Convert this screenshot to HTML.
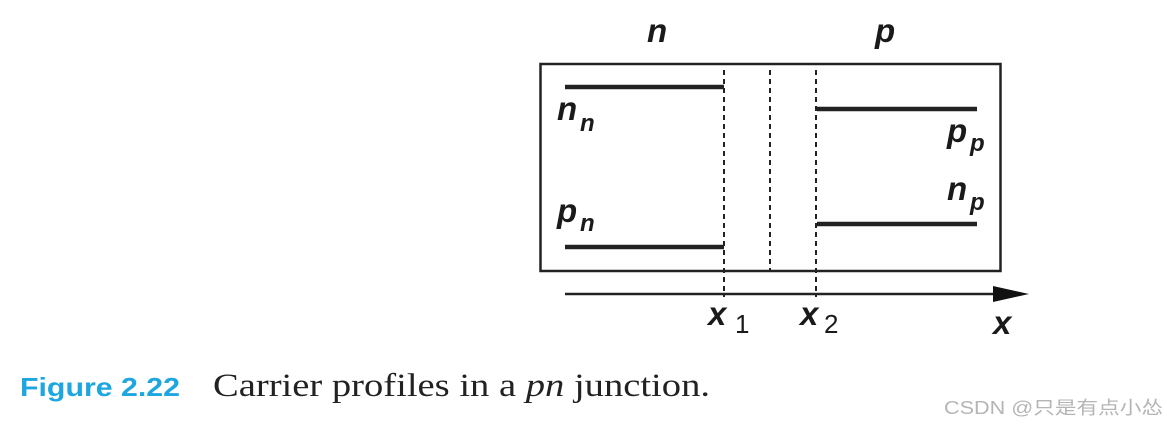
<!DOCTYPE html>
<html><head><meta charset="utf-8"><style>
html,body{margin:0;padding:0;background:#fff;}
body{width:1167px;height:425px;overflow:hidden;position:relative;}
</style></head><body>
<svg width="1167" height="425" viewBox="0 0 1167 425" style="position:absolute;left:0;top:0">
<g font-family="Liberation Sans, sans-serif" font-weight="bold" font-style="italic" fill="#1a1a1a">
<text x="647" y="42" font-size="33">n</text>
<text x="875" y="42" font-size="33">p</text>
<text x="557" y="120" font-size="33">n</text><text x="580" y="131" font-size="24">n</text>
<text x="557" y="222" font-size="33">p</text><text x="580" y="231" font-size="24">n</text>
<text x="947" y="142" font-size="33">p</text><text x="970" y="151" font-size="24">p</text>
<text x="947" y="200" font-size="33">n</text><text x="970" y="210" font-size="24">p</text>
<text x="708" y="325" font-size="33">x</text>
<text x="800" y="325" font-size="33">x</text>
<text x="993" y="334" font-size="33">x</text>
</g>
<g font-family="Liberation Sans, sans-serif" fill="#1a1a1a">
<text x="735" y="333" font-size="26">1</text>
<text x="824" y="333" font-size="26">2</text>
</g>
<rect x="540.5" y="64" width="460" height="207" fill="none" stroke="#222" stroke-width="2.5"/>
<g stroke="#222" stroke-width="4.5">
<line x1="565" y1="87" x2="724" y2="87"/>
<line x1="565" y1="247" x2="724" y2="247"/>
<line x1="817" y1="109" x2="977" y2="109"/>
<line x1="817" y1="224" x2="977" y2="224"/>
</g>
<g stroke="#222" stroke-width="2" stroke-dasharray="5,4">
<line x1="724" y1="70" x2="724" y2="297"/>
<line x1="770" y1="70" x2="770" y2="270"/>
<line x1="816" y1="70" x2="816" y2="297"/>
</g>
<line x1="565" y1="294" x2="995" y2="294" stroke="#222" stroke-width="2.5"/>
<polygon points="993,286 1029,294 993,302" fill="#111"/>
<text x="20" y="396" font-family="Liberation Sans, sans-serif" font-weight="bold" font-size="26" fill="#1ea6e0" textLength="160" lengthAdjust="spacingAndGlyphs">Figure 2.22</text>
<text x="213" y="396" font-family="Liberation Serif, serif" font-size="33" fill="#222" textLength="497" lengthAdjust="spacingAndGlyphs">Carrier profiles in a <tspan font-style="italic">pn</tspan> junction.</text>
<text x="944" y="414" font-family="Liberation Sans, 'Noto Sans CJK SC', sans-serif" font-size="18" fill="#b5b5b5" textLength="219" lengthAdjust="spacingAndGlyphs">CSDN @只是有点小怂</text>
</svg>
</body></html>
